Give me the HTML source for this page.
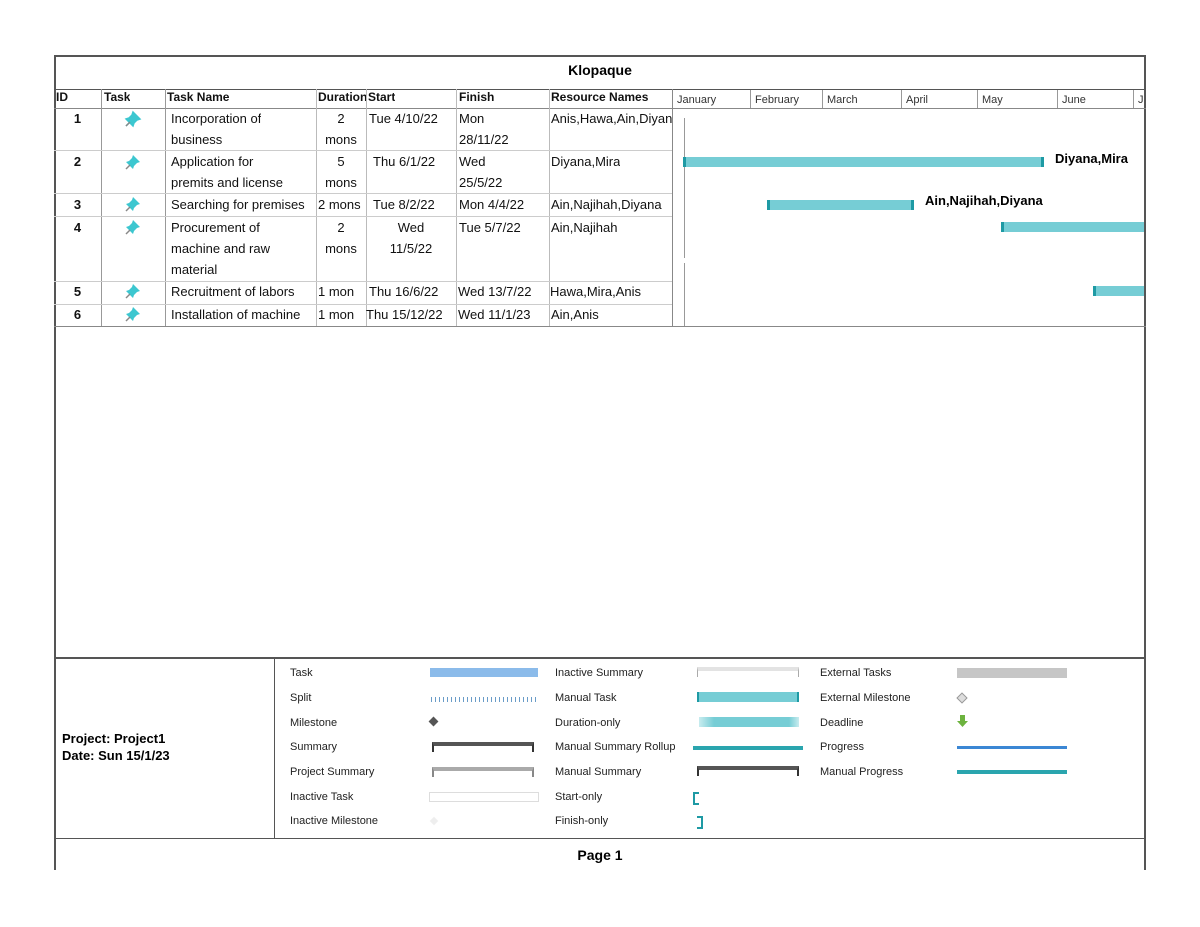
<!DOCTYPE html>
<html><head><style>
body{margin:0;width:1200px;height:927px;background:#fff;position:relative;font-family:"Liberation Sans",sans-serif;overflow:hidden}
.a{position:absolute}
.l{position:absolute;background:#555}
.g{position:absolute;background:#ccc}
.t{position:absolute;font-size:13px;line-height:21px;color:#111;white-space:nowrap;overflow:hidden}
.h{position:absolute;font-size:12px;font-weight:bold;top:90px;color:#111;white-space:nowrap;overflow:hidden}
.m{position:absolute;font-size:11px;top:94px;color:#333}
.bar{position:absolute;height:10px;background:#76cdd5;border-left:3px solid #1e9aa4;border-right:3px solid #1e9aa4;box-sizing:border-box}
.lg{position:absolute;font-size:11px;color:#222}
.pin{position:absolute;left:124px;width:18px;height:18px}
</style></head><body>
<div class="l" style="left:54px;top:55px;width:1092px;height:2px"></div>
<div class="l" style="left:54px;top:55px;width:2px;height:815px"></div>
<div class="l" style="left:1144px;top:55px;width:2px;height:815px"></div>
<div class="l" style="left:54px;top:89px;width:1092px;height:1px"></div>
<div class="l" style="left:54px;top:108px;width:1092px;height:1px;background:#888"></div>
<div class="l" style="left:54px;top:326px;width:1092px;height:1px;background:#888"></div>
<div class="l" style="left:54px;top:657px;width:1092px;height:2px"></div>
<div class="l" style="left:54px;top:838px;width:1092px;height:1px"></div>
<div class="l" style="left:274px;top:657px;width:1px;height:181px"></div>
<div class="a" style="left:54px;top:62px;width:1092px;text-align:center;font-size:14px;font-weight:bold">Klopaque</div>
<div class="l" style="left:101px;top:89px;width:1px;height:237px;background:#999"></div>
<div class="l" style="left:165px;top:89px;width:1px;height:237px;background:#999"></div>
<div class="l" style="left:316px;top:89px;width:1px;height:237px;background:#bbb"></div>
<div class="l" style="left:366px;top:89px;width:1px;height:237px;background:#bbb"></div>
<div class="l" style="left:456px;top:89px;width:1px;height:237px;background:#bbb"></div>
<div class="l" style="left:549px;top:89px;width:1px;height:237px;background:#bbb"></div>
<div class="l" style="left:672px;top:89px;width:1px;height:237px;background:#888"></div>
<div class="l" style="left:684px;top:118px;width:1px;height:140px;background:#999"></div>
<div class="l" style="left:684px;top:263px;width:1px;height:63px;background:#999"></div>
<div class="l" style="left:750px;top:90px;width:1px;height:18px;background:#999"></div>
<div class="l" style="left:822px;top:90px;width:1px;height:18px;background:#999"></div>
<div class="l" style="left:901px;top:90px;width:1px;height:18px;background:#999"></div>
<div class="l" style="left:977px;top:90px;width:1px;height:18px;background:#999"></div>
<div class="l" style="left:1057px;top:90px;width:1px;height:18px;background:#999"></div>
<div class="l" style="left:1133px;top:90px;width:1px;height:18px;background:#999"></div>
<div class="g" style="left:54px;top:150px;width:618px;height:1px"></div>
<div class="g" style="left:54px;top:193px;width:618px;height:1px"></div>
<div class="g" style="left:54px;top:216px;width:618px;height:1px"></div>
<div class="g" style="left:54px;top:281px;width:618px;height:1px"></div>
<div class="g" style="left:54px;top:304px;width:618px;height:1px"></div>
<div class="h" style="left:56px">ID</div>
<div class="h" style="left:104px">Task</div>
<div class="h" style="left:167px">Task Name</div>
<div class="h" style="left:318px;width:48px">Duration</div>
<div class="h" style="left:368px">Start</div>
<div class="h" style="left:459px">Finish</div>
<div class="h" style="left:551px">Resource Names</div>
<div class="m" style="left:677px">January</div>
<div class="m" style="left:755px">February</div>
<div class="m" style="left:827px">March</div>
<div class="m" style="left:906px">April</div>
<div class="m" style="left:982px">May</div>
<div class="m" style="left:1062px">June</div>
<div class="m" style="left:1138px;width:6px;overflow:hidden">July</div>
<div class="t" style="left:54px;width:47px;top:108px;text-align:center;font-weight:bold">1</div>
<div class="t" style="left:54px;width:47px;top:151px;text-align:center;font-weight:bold">2</div>
<div class="t" style="left:54px;width:47px;top:194px;text-align:center;font-weight:bold">3</div>
<div class="t" style="left:54px;width:47px;top:217px;text-align:center;font-weight:bold">4</div>
<div class="t" style="left:54px;width:47px;top:281px;text-align:center;font-weight:bold">5</div>
<div class="t" style="left:54px;width:47px;top:304px;text-align:center;font-weight:bold">6</div>
<svg class="pin" style="top:110px" viewBox="0 0 18 18"><path d="M9 2 L16 9 L13 10 L10 13 L9 16 L2 9 L5 8 L8 5 Z M7 11 L2 16" fill="#3cc7d0" stroke="#3cc7d0" stroke-width="1.5"/><path d="M6 12 L2 16" stroke="#888" stroke-width="1.5"/></svg>
<svg class="pin" style="top:153px" viewBox="0 0 18 18"><path d="M9 2 L16 9 L13 10 L10 13 L9 16 L2 9 L5 8 L8 5 Z" fill="#3cc7d0"/><path d="M6 12 L2 16" stroke="#888" stroke-width="1.5"/></svg>
<svg class="pin" style="top:195px" viewBox="0 0 18 18"><path d="M9 2 L16 9 L13 10 L10 13 L9 16 L2 9 L5 8 L8 5 Z" fill="#3cc7d0"/><path d="M6 12 L2 16" stroke="#888" stroke-width="1.5"/></svg>
<svg class="pin" style="top:218px" viewBox="0 0 18 18"><path d="M9 2 L16 9 L13 10 L10 13 L9 16 L2 9 L5 8 L8 5 Z" fill="#3cc7d0"/><path d="M6 12 L2 16" stroke="#888" stroke-width="1.5"/></svg>
<svg class="pin" style="top:282px" viewBox="0 0 18 18"><path d="M9 2 L16 9 L13 10 L10 13 L9 16 L2 9 L5 8 L8 5 Z" fill="#3cc7d0"/><path d="M6 12 L2 16" stroke="#888" stroke-width="1.5"/></svg>
<svg class="pin" style="top:305px" viewBox="0 0 18 18"><path d="M9 2 L16 9 L13 10 L10 13 L9 16 L2 9 L5 8 L8 5 Z" fill="#3cc7d0"/><path d="M6 12 L2 16" stroke="#888" stroke-width="1.5"/></svg>
<div class="t" style="left:171px;top:108px">Incorporation of<br>business</div>
<div class="t" style="left:171px;top:151px">Application for<br>premits and license</div>
<div class="t" style="left:171px;top:194px;width:145px">Searching for premises</div>
<div class="t" style="left:171px;top:217px">Procurement of<br>machine and raw<br>material</div>
<div class="t" style="left:171px;top:281px;width:145px">Recruitment of labors</div>
<div class="t" style="left:171px;top:304px;width:145px">Installation of machine</div>
<div class="t" style="left:316px;width:50px;top:108px;text-align:center">2<br>mons</div>
<div class="t" style="left:316px;width:50px;top:151px;text-align:center">5<br>mons</div>
<div class="t" style="left:318px;width:48px;top:194px">2 mons</div>
<div class="t" style="left:316px;width:50px;top:217px;text-align:center">2<br>mons</div>
<div class="t" style="left:318px;width:48px;top:281px">1 mon</div>
<div class="t" style="left:318px;width:48px;top:304px">1 mon</div>
<div class="t" style="left:369px;top:108px">Tue 4/10/22</div>
<div class="t" style="left:373px;top:151px">Thu 6/1/22</div>
<div class="t" style="left:373px;top:194px">Tue 8/2/22</div>
<div class="t" style="left:366px;width:90px;top:217px;text-align:center">Wed<br>11/5/22</div>
<div class="t" style="left:369px;top:281px">Thu 16/6/22</div>
<div class="t" style="left:366px;width:90px;top:304px">Thu 15/12/22</div>
<div class="t" style="left:459px;top:108px">Mon<br>28/11/22</div>
<div class="t" style="left:459px;top:151px">Wed<br>25/5/22</div>
<div class="t" style="left:459px;top:194px">Mon 4/4/22</div>
<div class="t" style="left:459px;top:217px">Tue 5/7/22</div>
<div class="t" style="left:458px;width:91px;top:281px">Wed 13/7/22</div>
<div class="t" style="left:458px;width:91px;top:304px">Wed 11/1/23</div>
<div class="t" style="left:551px;width:121px;top:108px">Anis,Hawa,Ain,Diyana</div>
<div class="t" style="left:551px;top:151px">Diyana,Mira</div>
<div class="t" style="left:551px;width:121px;top:194px">Ain,Najihah,Diyana</div>
<div class="t" style="left:551px;top:217px">Ain,Najihah</div>
<div class="t" style="left:550px;width:122px;top:281px">Hawa,Mira,Anis</div>
<div class="t" style="left:551px;top:304px">Ain,Anis</div>
<div class="bar" style="left:683px;top:157px;width:361px"></div>
<div class="a" style="left:1055px;top:151px;font-size:13px;font-weight:bold">Diyana,Mira</div>
<div class="bar" style="left:767px;top:200px;width:147px"></div>
<div class="a" style="left:925px;top:193px;font-size:13px;font-weight:bold">Ain,Najihah,Diyana</div>
<div class="bar" style="left:1001px;top:222px;width:143px;border-right:none"></div>
<div class="bar" style="left:1093px;top:286px;width:51px;border-right:none"></div>
<div class="a" style="left:62px;top:730px;font-size:13px;font-weight:bold;line-height:17px">Project: Project1<br>Date: Sun 15/1/23</div>
<div class="a" style="left:54px;top:847px;width:1092px;text-align:center;font-size:14px;font-weight:bold">Page 1</div>
<div class="lg" style="left:290px;top:667px">Task</div>
<div class="lg" style="left:290px;top:692px">Split</div>
<div class="lg" style="left:290px;top:717px">Milestone</div>
<div class="lg" style="left:290px;top:741px">Summary</div>
<div class="lg" style="left:290px;top:766px">Project Summary</div>
<div class="lg" style="left:290px;top:791px">Inactive Task</div>
<div class="lg" style="left:290px;top:815px">Inactive Milestone</div>
<div class="a" style="left:430px;top:668px;width:108px;height:9px;background:#8bbbea"></div>
<div class="a" style="left:431px;top:697px;width:108px;height:5px;background:repeating-linear-gradient(90deg,#6a9cc8 0 1px,transparent 1px 4px)"></div>
<div class="a" style="left:430px;top:718px;width:7px;height:7px;background:#555;transform:rotate(45deg)"></div>
<div class="a" style="left:432px;top:742px;width:102px;height:10px;border-left:2px solid #333;border-right:2px solid #333;border-top:4px solid #555;box-sizing:border-box"></div>
<div class="a" style="left:432px;top:767px;width:102px;height:10px;border-left:2px solid #888;border-right:2px solid #888;border-top:4px solid #aaa;box-sizing:border-box"></div>
<div class="a" style="left:429px;top:792px;width:108px;height:8px;border:1px solid #ddd"></div>
<div class="a" style="left:431px;top:818px;width:6px;height:6px;background:#eee;transform:rotate(45deg)"></div>
<div class="lg" style="left:555px;top:667px">Inactive Summary</div>
<div class="lg" style="left:555px;top:692px">Manual Task</div>
<div class="lg" style="left:555px;top:717px">Duration-only</div>
<div class="lg" style="left:555px;top:741px">Manual Summary Rollup</div>
<div class="lg" style="left:555px;top:766px">Manual Summary</div>
<div class="lg" style="left:555px;top:791px">Start-only</div>
<div class="lg" style="left:555px;top:815px">Finish-only</div>
<div class="a" style="left:697px;top:667px;width:102px;height:10px;border-left:1px solid #aaa;border-right:1px solid #aaa;border-top:4px solid #e3e3e3;box-sizing:border-box"></div>
<div class="a" style="left:697px;top:692px;width:102px;height:10px;background:#76cdd5;border-left:2px solid #1e9aa4;border-right:2px solid #1e9aa4;box-sizing:border-box"></div>
<div class="a" style="left:699px;top:717px;width:100px;height:10px;background:linear-gradient(90deg,#c8ecef,#76cdd5 15%,#76cdd5 90%,#c8ecef)"></div>
<div class="a" style="left:693px;top:746px;width:110px;height:4px;background:#2aa5ae"></div>
<div class="a" style="left:697px;top:766px;width:102px;height:10px;border-left:2px solid #333;border-right:2px solid #333;border-top:4px solid #555;box-sizing:border-box"></div>
<div class="a" style="left:693px;top:792px;width:4px;height:9px;border:2px solid #1e9aa4;border-right:none"></div>
<div class="a" style="left:697px;top:816px;width:4px;height:9px;border:2px solid #1e9aa4;border-left:none"></div>
<div class="lg" style="left:820px;top:667px">External Tasks</div>
<div class="lg" style="left:820px;top:692px">External Milestone</div>
<div class="lg" style="left:820px;top:717px">Deadline</div>
<div class="lg" style="left:820px;top:741px">Progress</div>
<div class="lg" style="left:820px;top:766px">Manual Progress</div>
<div class="a" style="left:957px;top:668px;width:110px;height:10px;background:#c6c6c6"></div>
<div class="a" style="left:958px;top:694px;width:6px;height:6px;border:1px solid #999;background:#ddd;transform:rotate(45deg)"></div>
<svg class="a" style="left:956px;top:715px" width="13" height="13" viewBox="0 0 13 13"><path d="M4 0 H9 V6 H12 L6.5 12 L1 6 H4 Z" fill="#6db33f"/></svg>
<div class="a" style="left:957px;top:746px;width:110px;height:3px;background:#3b87d4"></div>
<div class="a" style="left:957px;top:770px;width:110px;height:4px;background:#2aa5ae"></div>
</body></html>
